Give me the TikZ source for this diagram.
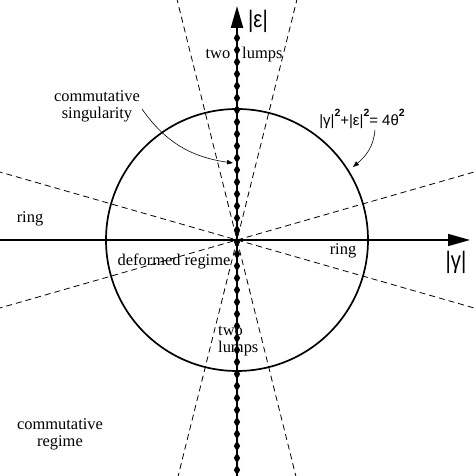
\documentclass[tikz,border=0pt]{standalone}
\usepackage{fontspec}
\setmainfont{Liberation Serif}
\newfontfamily\lsans{Liberation Sans}
\usetikzlibrary{arrows.meta}
\newcommand{\supb}[1]{\raisebox{0.55em}{\fontsize{10.5}{12}\selectfont\textbf{#1}}}
\begin{document}
\begin{tikzpicture}[x=1bp,y=1bp,
  lbl/.style={font=\fontsize{16.5}{17}\selectfont, align=center, inner sep=0pt},
  axislabel/.style={font=\lsans\fontsize{24}{26}\selectfont, inner sep=0pt},
  formula/.style={font=\lsans\fontsize{15}{16}\selectfont, inner sep=0pt},
  axisline/.style={line width=1.6bp},
  guide/.style={line width=0.8bp, dash pattern=on 6bp off 4bp},
  pointer/.style={line width=0.6bp, -{Triangle[length=6bp,width=4.5bp]}},
  bigtip/.style={-{Triangle[length=22bp,width=12bp]}}
]
\useasboundingbox (-237,-236) rectangle (237,240);
\coordinate (O) at (0,0);
\coordinate (xl) at (-237,0);
\coordinate (xr) at (233,0);
\coordinate (yb) at (0,-236);
\coordinate (yt) at (0,234);
% dashed guide lines
\begin{scope}
  \clip (-237,-236) rectangle (237,240);
  \coordinate (g1a) at (196:400); \coordinate (g1b) at (16:400);
  \coordinate (g2a) at (164:400); \coordinate (g2b) at (-16:400);
  \coordinate (g3a) at (76:400);  \coordinate (g3b) at (256:400);
  \coordinate (g4a) at (104:400); \coordinate (g4b) at (284:400);
  \draw[guide] (g1a) -- (g1b);
  \draw[guide] (g2a) -- (g2b);
  \draw[guide] (g3a) -- (g3b);
  \draw[guide] (g4a) -- (g4b);
\end{scope}
% circle
\draw[line width=1.7bp] (O) circle[radius=131];
% axes
\draw[axisline,bigtip] (xl) -- (xr);
\draw[line width=2.2bp,bigtip] (yb) -- (yt);
\foreach \k in {0,...,36} {
  \fill (0,{202-12*\k}) ++(0,5.2) -- ++(3.2,-5.2) -- ++(-3.2,-5.2) -- ++(-3.2,5.2) -- cycle;
}
% labels
\node[axislabel] (eps) at (21,219) {\scalebox{0.85}[1]{|ε|}};
\node[axislabel] (gam) at (219,-22) {\scalebox{0.85}[1]{|γ|}};
\node[lbl] (toplumps) at (7,185) {two\hspace{12bp}lumps};
\node[lbl, align=left, anchor=west] (botlumps) at (-19,-101) {two\\lumps};
\node[lbl] (sing) at (-140,134) {commutative\\singularity};
\node[lbl] (ringl) at (-207,21) {ring};
\node[lbl] (ringr) at (106,-11) {ring};
\node[lbl] (defo) at (-63,-21) {deformed regime};
\node[lbl] (creg) at (-177,-194) {commutative\\regime};
\node[formula] (form) at (125,121) {|γ|\supb{2}+|ε|\supb{2}= 4θ\supb{2}};
% pointers
\coordinate (singstart) at (-95,131);
\coordinate (singtip) at (-4,77);
\coordinate (formstart) at (138,110);
\coordinate (formtip) at (116,73);
\draw[pointer] (singstart) to[out=-55,in=172] (singtip);
\draw[pointer] (formstart) to[out=-95,in=40] (formtip);
\end{tikzpicture}
\end{document}
